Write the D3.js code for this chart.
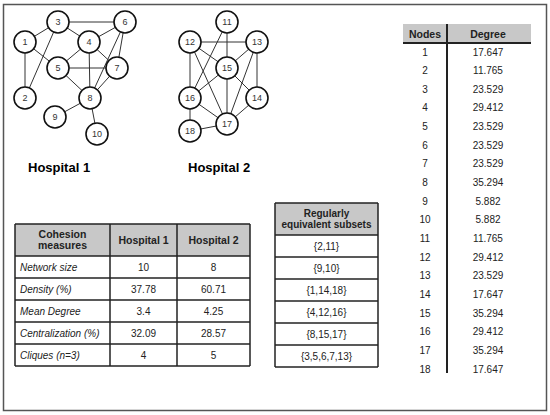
<!DOCTYPE html>
<html><head><meta charset="utf-8">
<script src="https://cdn.jsdelivr.net/npm/d3@7"></script>
<style>body{margin:0;background:#fff}</style></head>
<body><svg id="c" width="550" height="415"></svg>
<script>
const nodes1 = [[1,25,42],[2,25,98],[3,58,22],[4,89,42],[5,58,68],[6,125,22],[7,117,68],[8,90,98],[9,55,117],[10,97,134]];
const edges1 = [[1,2],[1,3],[1,5],[2,3],[3,6],[3,4],[4,6],[4,5],[4,7],[4,8],[5,7],[5,8],[6,7],[6,8],[7,8],[8,9],[8,10]];
const nodes2 = [[11,227,22],[12,190,42],[13,257,42],[15,227,68],[16,190,98],[14,257,98],[17,227,124],[18,190,131]];
const edges2 = [[11,15],[11,16],[12,13],[12,16],[12,15],[12,17],[13,15],[13,17],[13,14],[14,15],[14,17],[15,16],[15,17],[16,17],[16,18],[17,18]];
const cohesionHeader = ["Cohesion\nmeasures","Hospital 1","Hospital 2"];
const cohesionRows = [["Network size","10","8"],["Density (%)","37.78","60.71"],["Mean Degree","3.4","4.25"],["Centralization (%)","32.09","28.57"],["Cliques (n=3)","4","5"]];
const subsets = ["{2,11}","{9,10}","{1,14,18}","{4,12,16}","{8,15,17}","{3,5,6,7,13}"];
const nodeIds = d3.range(1,19);
const degree = ["17.647","11.765","23.529","29.412","23.529","23.529","23.529","35.294","5.882","5.882","11.765","29.412","23.529","17.647","35.294","29.412","35.294","17.647"];

const svg = d3.select("#c");
const F = "Arial, 'Liberation Sans', sans-serif";
svg.append("rect").attr("x",3.5).attr("y",4.5).attr("width",543).attr("height",406).attr("fill","none").attr("stroke","#555").attr("stroke-width",1.5);

function net(nodes, edges){
  const pos = new Map(nodes.map(n=>[n[0],n]));
  const g = svg.append("g");
  g.selectAll("line").data(edges).join("line")
    .attr("x1",d=>pos.get(d[0])[1]).attr("y1",d=>pos.get(d[0])[2])
    .attr("x2",d=>pos.get(d[1])[1]).attr("y2",d=>pos.get(d[1])[2])
    .attr("stroke","#333").attr("stroke-width",1);
  const ng = g.selectAll("g").data(nodes).join("g").attr("transform",d=>`translate(${d[1]},${d[2]})`);
  ng.append("circle").attr("r",11).attr("fill","#fff").attr("stroke","#111").attr("stroke-width",1.6);
  ng.append("text").text(d=>d[0]).attr("text-anchor","middle").attr("dy","0.35em")
    .attr("font-family",F).attr("font-size",9).attr("fill","#333");
}
net(nodes1, edges1);
net(nodes2, edges2);
svg.append("text").attr("x",28).attr("y",172).text("Hospital 1").attr("font-family",F).attr("font-weight","bold").attr("font-size",13);
svg.append("text").attr("x",188).attr("y",172).text("Hospital 2").attr("font-family",F).attr("font-weight","bold").attr("font-size",13);

function cellText(x,y,t,opts){
  const lines = t.split("\n");
  const tx = svg.append("text").attr("x",x).attr("y",y).attr("font-family",F).attr("font-size",opts.size||10)
    .attr("text-anchor",opts.anchor||"middle").attr("font-weight",opts.bold?"bold":null)
    .attr("font-style",opts.italic?"italic":null).attr("fill","#222");
  lines.forEach((l,i)=>tx.append("tspan").attr("x",x).attr("dy",i===0?(-(lines.length-1)*0.55+0.35)+"em":"1.1em").text(l));
}

// cohesion table
const cx = [15,110,177,250], hy = 224, hh = 32, rh = 22;
const yRow = d3.scaleLinear().domain([0,5]).range([hy+hh, hy+hh+5*rh]);
svg.append("rect").attr("x",cx[0]).attr("y",hy).attr("width",cx[3]-cx[0]).attr("height",hh).attr("fill","#c8c8c8");
cohesionHeader.forEach((h,i)=>cellText((cx[i]+cx[i+1])/2, hy+hh/2, h, {bold:true,size:10.5}));
cohesionRows.forEach((r,ri)=>r.forEach((v,ci)=>{
  const y = yRow(ri)+rh/2;
  if(ci===0) cellText(cx[0]+5,y,v,{anchor:"start",italic:true});
  else cellText((cx[ci]+cx[ci+1])/2,y,v,{});
}));
[hy, ...d3.range(0,6).map(yRow)].forEach(y=>svg.append("line").attr("x1",cx[0]).attr("x2",cx[3]).attr("y1",y).attr("y2",y).attr("stroke","#222").attr("stroke-width",1.5));
cx.forEach(x=>svg.append("line").attr("x1",x).attr("x2",x).attr("y1",hy).attr("y2",yRow(5)).attr("stroke","#222").attr("stroke-width",1.5));

// subsets table
const sx0 = 275, sx1 = 378, sy = 203;
const ySub = d3.scaleLinear().domain([0,6]).range([sy+hh, sy+hh+6*rh]);
svg.append("rect").attr("x",sx0).attr("y",sy).attr("width",sx1-sx0).attr("height",hh).attr("fill","#c8c8c8");
cellText((sx0+sx1)/2, sy+hh/2, "Regularly\nequivalent subsets", {bold:true,size:10});
subsets.forEach((s,i)=>cellText((sx0+sx1)/2, ySub(i)+rh/2, s, {}));
[sy, ...d3.range(0,7).map(ySub)].forEach(y=>svg.append("line").attr("x1",sx0).attr("x2",sx1).attr("y1",y).attr("y2",y).attr("stroke","#222").attr("stroke-width",1.5));
[sx0,sx1].forEach(x=>svg.append("line").attr("x1",x).attr("x2",x).attr("y1",sy).attr("y2",ySub(6)).attr("stroke","#222").attr("stroke-width",1.5));

// degree table
const dy = d3.scaleLinear().domain([1,18]).range([52,369]);
svg.append("rect").attr("x",403).attr("y",24).attr("width",128).attr("height",19).attr("fill","#c8c8c8");
cellText(425,34,"Nodes",{bold:true,size:10.5});
cellText(488,34,"Degree",{bold:true,size:10.5});
svg.append("line").attr("x1",403).attr("x2",531).attr("y1",43).attr("y2",43).attr("stroke","#222").attr("stroke-width",2);
svg.append("line").attr("x1",447).attr("x2",447).attr("y1",24).attr("y2",373).attr("stroke","#222").attr("stroke-width",2);
nodeIds.forEach((n,i)=>{
  cellText(425,dy(n),String(n),{});
  cellText(488,dy(n),degree[i],{});
});
</script></body></html>
